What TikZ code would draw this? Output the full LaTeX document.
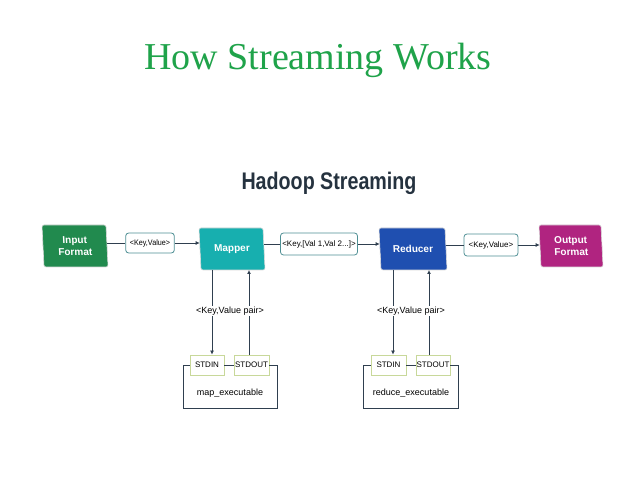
\documentclass[tikz,border=0pt]{standalone}
\usepackage{fontspec}
\setmainfont{Liberation Serif}
\newfontfamily\lab{Liberation Sans}
\usetikzlibrary{arrows.meta}
\definecolor{ttl}{HTML}{1FA34A}
\definecolor{ingreen}{HTML}{218A4E}
\definecolor{mteal}{HTML}{17AFAF}
\definecolor{rblue}{HTML}{1F4FB0}
\definecolor{omag}{HTML}{B02480}
\definecolor{bord}{HTML}{4F8F94}
\definecolor{ln}{HTML}{2F3F4F}
\definecolor{sbord}{HTML}{C8D89A}
\tikzset{
  proc/.style={draw=gray!30,line width=0.6pt,rounded corners=2pt,text=white,font=\lab\bfseries\fontsize{10}{12}\selectfont,align=center,inner sep=0pt,xslant=-0.05},
  kv/.style={draw=bord,line width=0.8pt,rounded corners=3pt,fill=white,font=\lab\fontsize{8}{9}\selectfont,inner sep=0pt},
  sbox/.style={draw=sbord,line width=0.8pt,fill=white,font=\lab\fontsize{8}{9}\selectfont,inner sep=0pt,minimum height=20pt},
  con/.style={draw=ln,line width=0.8pt},
  arr/.style={con,-{Latex[length=4pt,width=4pt]}},
  lbl/.style={font=\lab\fontsize{9}{10}\selectfont,fill=white,inner sep=1pt}
}
\begin{document}
\begin{tikzpicture}[x=1pt,y=-1pt]
\useasboundingbox[fill=white] (0,0) rectangle (638,478);
\node[text=ttl,font=\fontsize{38}{42}\selectfont] (title) at (318,60) {How Streaming Works};
\node[text=ln!80!black,font=\lab\bfseries\fontsize{24}{26}\selectfont,xscale=0.82] (sub) at (329,183) {Hadoop Streaming};
% main nodes
\node[proc,fill=ingreen,minimum width=64pt,minimum height=42pt] (in) at (75,246) {Input\\Format};
\node[kv,minimum width=54pt,minimum height=20pt,xscale=0.9] (kv1) at (150,243) {<Key,Value>};
\node[proc,fill=mteal,minimum width=64pt,minimum height=42pt] (map) at (232,249) {Mapper};
\node[kv,minimum width=77pt,minimum height=22pt] (kv2) at (319,244) {<Key,[Val 1,Val 2...]>};
\node[proc,fill=rblue,minimum width=66pt,minimum height=42pt] (red) at (413,249) {Reducer};
\node[kv,minimum width=54pt,minimum height=22pt] (kv3) at (491,245) {<Key,Value>};
\node[proc,fill=omag,minimum width=62pt,minimum height=42pt] (out) at (571,246) {Output\\Format};
\draw[con] (in.east |- kv1) -- (kv1);
\draw[arr] (kv1) -- (map.west |- kv1);
\draw[con] (map.east |- kv2) -- (kv2);
\draw[arr] (kv2) -- (red.west |- kv2);
\draw[con] (red.east |- kv3) -- (kv3);
\draw[arr] (kv3) -- (out.west |- kv3);
% map side
\node[sbox,minimum width=34pt] (min) at (207,365) {STDIN};
\node[sbox,minimum width=35pt] (mout) at (251.5,365) {STDOUT};
\draw[con] (min) -- (mout);
\coordinate (ma) at (183,365); \coordinate (mb) at (183,408);
\coordinate (mc) at (277,408); \coordinate (md) at (277,365);
\draw[con] (min.west) -- (ma) -- (mb) -- (mc) -- (md) -- (mout.east);
\node[font=\lab\fontsize{9}{10}\selectfont] (mexe) at (230,393) {map\_executable};
\coordinate (m1) at (212,270); \coordinate (m2) at (249,270);
\draw[arr] (m1) -- (min.north -| m1);
\draw[arr] (mout.north -| m2) -- (m2);
\node[lbl] (mkv) at (230,311) {<Key,Value pair>};
% reduce side
\node[sbox,minimum width=35pt] (rin) at (388.5,365) {STDIN};
\node[sbox,minimum width=34pt] (rout) at (433,365) {STDOUT};
\draw[con] (rin) -- (rout);
\coordinate (ra) at (363,365); \coordinate (rb) at (363,408);
\coordinate (rc) at (458,408); \coordinate (rd) at (458,365);
\draw[con] (rin.west) -- (ra) -- (rb) -- (rc) -- (rd) -- (rout.east);
\node[font=\lab\fontsize{9}{10}\selectfont] (rexe) at (411,393) {reduce\_executable};
\coordinate (r1) at (393,270); \coordinate (r2) at (429,270);
\draw[arr] (r1) -- (rin.north -| r1);
\draw[arr] (rout.north -| r2) -- (r2);
\node[lbl] (rkv) at (411,311) {<Key,Value pair>};
\end{tikzpicture}
\end{document}
